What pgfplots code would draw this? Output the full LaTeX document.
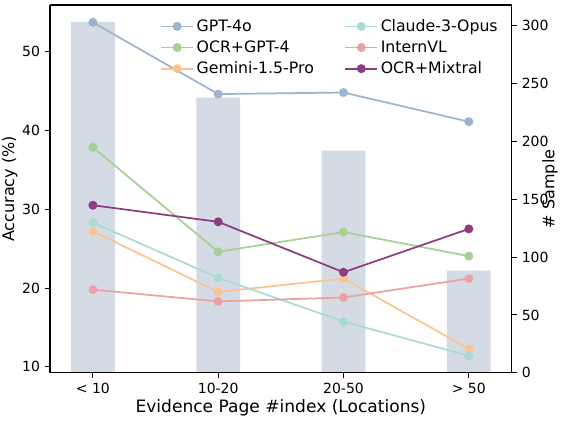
\documentclass[border=0pt]{standalone}
\usepackage{pgfplots}
\pgfplotsset{compat=1.18}
\usepackage{fontspec}
\setmainfont{DejaVu Sans}
\definecolor{cgpt}{HTML}{9DB4CE}
\definecolor{cocrg}{HTML}{A6D096}
\definecolor{cgem}{HTML}{F9C48F}
\definecolor{ccla}{HTML}{A9DBD3}
\definecolor{cint}{HTML}{EBA2A3}
\definecolor{cmix}{HTML}{8A3D80}
\definecolor{cbar}{HTML}{D5DBE5}
\begin{document}
\begin{tikzpicture}
\path[use as bounding box] (-37.5pt,-36.75pt) rectangle (392.5pt,279.75pt);
\pgfplotsset{
  every axis/.append style={
    scale only axis, width=346.5pt, height=276pt,
    xmin=-0.3425, xmax=3.3425,
    axis line style={line width=1pt},
    tick style={line width=0.8pt, black},
    tick align=outside,
    major tick length=4pt,
    /pgf/number format/assume math mode=true,
    tick label style={font=\fontsize{10.5}{12}\selectfont},
    label style={font=\fontsize{12}{14}\selectfont},
  }
}
\begin{axis}[
  axis x line=none,
  axis y line*=right,
  ymin=0, ymax=318,
  ytick={0,50,100,150,200,250,300},
  ylabel={\# Sample},
  ylabel style={at={(axis description cs:1.056,0.5)}, anchor=north},
]
\addplot[ybar, bar width=0.35, fill=cbar, draw=none] coordinates {(0,303.5) (1,238) (2,192) (3,88.4)};
\end{axis}
\begin{axis}[
  axis x line*=box, axis y line*=left,
  ymin=9.25, ymax=55.9,
  ytick={10,20,30,40,50},
  xtick={0,1,2,3},
  xtick pos=bottom,
  xticklabels={{< 10},{10-20},{20-50},{> 50}},
  xlabel={Evidence Page \#index (Locations)},
  ylabel={Accuracy (\%)},
  xlabel style={yshift=2pt, font=\fontsize{12.8}{14}\selectfont},
  ylabel style={at={(axis description cs:-0.06,0.5)}, anchor=south},
  every axis plot/.append style={line width=1.3pt, mark=*, mark size=2.7pt, mark options={solid}},
  legend columns=3,
  legend transposed=true,
  legend cell align=left,
  legend style={draw=none, fill=none, at={(0.23,0.976)}, anchor=north west,
    font=\fontsize{11.8}{13}\selectfont, row sep=1.5pt,
    /tikz/every even column/.append style={column sep=21pt}},
  legend image code/.code={\draw[mark repeat=2,mark phase=2] plot coordinates {(0cm,0cm) (0.42cm,0cm) (0.84cm,0cm)};},
]
\draw[line width=1pt] (rel axis cs:0,1) -- (rel axis cs:1,1);
\addplot[cgpt] coordinates {(0,53.7) (1,44.6) (2,44.8) (3,41.1)};
\addlegendentry{GPT-4o}
\addplot[cocrg] coordinates {(0,37.85) (1,24.6) (2,27.1) (3,24.05)};
\addlegendentry{OCR+GPT-4}
\addplot[cgem] coordinates {(0,27.2) (1,19.5) (2,21.2) (3,12.3)};
\addlegendentry{Gemini-1.5-Pro}
\addplot[ccla] coordinates {(0,28.3) (1,21.3) (2,15.75) (3,11.4)};
\addlegendentry{Claude-3-Opus}
\addplot[cint] coordinates {(0,19.8) (1,18.3) (2,18.8) (3,21.2)};
\addlegendentry{InternVL}
\addplot[cmix] coordinates {(0,30.5) (1,28.4) (2,22.0) (3,27.5)};
\addlegendentry{OCR+Mixtral}
\end{axis}
\end{tikzpicture}
\end{document}
